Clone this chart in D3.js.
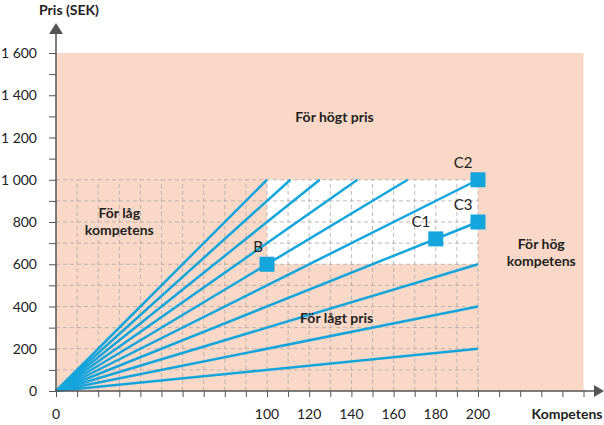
<!DOCTYPE html><html><head><meta charset="utf-8"><script src="https://cdn.jsdelivr.net/npm/d3@7"></script>
<style>body{margin:0;background:#fff}text{font-family:Lato,"Open Sans",sans-serif;fill:#222}</style></head><body><svg width="604" height="425"></svg><script>
const xTickLabels=[0,100,120,140,160,180,200];
const yTickLabels=[0,200,400,600,800,1000,1200,1400,1600];
const slopes=[10,9,8,7,6,5,4,3,2,1];
const points=[{name:"B",x:100,y:600},{name:"C1",x:180,y:720},{name:"C2",x:200,y:1000},{name:"C3",x:200,y:800}];
const regionLabels=[{t:["För högt pris"],x:132,y:1275},{t:["För låg","kompetens"],x:30,y:820},{t:["För hög","kompetens"],x:230,y:670},{t:["För lågt pris"],x:133,y:320}];
const svg=d3.select("svg");
const x=d3.scaleLinear().domain([0,200]).range([56,478]);
const y=d3.scaleLinear().domain([0,1600]).range([391,53]);
const pink="#f9d8c7",blue="#14a5dc",axc="#555";
svg.append("rect").attr("x",x(0)).attr("y",y(1600)).attr("width",x(250)-x(0)).attr("height",y(0)-y(1600)).attr("fill",pink);
svg.append("rect").attr("x",x(100)).attr("y",y(1000)).attr("width",x(200)-x(100)).attr("height",y(600)-y(1000)).attr("fill","#fff");
const g=svg.append("g");
g.selectAll(".vg").data(d3.range(10,201,10)).join("line").attr("x1",d=>x(d)).attr("x2",d=>x(d)).attr("y1",y(0)).attr("y2",y(1000)).attr("stroke","#b0aaa6").attr("stroke-width",0.8).attr("stroke-dasharray","4,3");
g.selectAll(".hg").data(d3.range(100,1001,100)).join("line").attr("x1",x(0)).attr("x2",x(200)).attr("y1",d=>y(d)).attr("y2",d=>y(d)).attr("stroke","#b0aaa6").attr("stroke-width",0.8).attr("stroke-dasharray","4,3");
svg.selectAll(".ray").data(slopes).join("line").attr("x1",x(0)).attr("y1",y(0)).attr("x2",s=>x(Math.min(200,1000/s))).attr("y2",s=>y(Math.min(200,1000/s)*s)).attr("stroke",blue).attr("stroke-width",2.5);
svg.selectAll(".pt").data(points).join("rect").attr("x",d=>x(d.x)-7.5).attr("y",d=>y(d.y)-7.5).attr("width",15).attr("height",15).attr("fill",blue);
svg.selectAll(".pl").data(points).join("text").attr("x",d=>x(d.x)-(d.name=="B"?9:15)).attr("y",d=>y(d.y)-12).attr("text-anchor","middle").attr("font-size",15).text(d=>d.name);
regionLabels.forEach(r=>{const t=svg.append("text").attr("x",x(r.x)).attr("y",y(r.y)).attr("text-anchor","middle").attr("font-size",14).attr("font-weight","bold");r.t.forEach((s,i)=>t.append("tspan").attr("x",x(r.x)).attr("dy",i?17:0).text(s));});
const xa=d3.axisBottom(x).tickValues(d3.range(0,251,10)).tickSize(6).tickFormat("");
const xg=svg.append("g").attr("transform",`translate(0,${y(0)})`).call(xa);
xg.select(".domain").remove();xg.selectAll("line").attr("stroke",axc);
svg.append("line").attr("x1",x(0)).attr("x2",596).attr("y1",y(0)).attr("y2",y(0)).attr("stroke",axc).attr("stroke-width",1.5);
svg.append("path").attr("d",`M604,${y(0)} l-10,-6 v12z`).attr("fill",axc);
svg.selectAll(".xl").data(xTickLabels).join("text").attr("x",d=>x(d)).attr("y",419).attr("text-anchor","middle").attr("font-size",14).text(d=>d);
const ya=d3.axisLeft(y).tickValues(d3.range(0,1601,100)).tickSize(7).tickFormat("");
const yg=svg.append("g").attr("transform",`translate(${x(0)},0)`).call(ya);
yg.select(".domain").remove();yg.selectAll("line").attr("stroke",axc);
svg.append("line").attr("x1",x(0)).attr("x2",x(0)).attr("y1",y(0)).attr("y2",32).attr("stroke",axc).attr("stroke-width",1.5);
svg.append("path").attr("d",`M${x(0)},23 l-7,11 h14z`).attr("fill",axc);
svg.selectAll(".yl").data(yTickLabels).join("text").attr("x",37).attr("y",d=>y(d)+5).attr("text-anchor","end").attr("font-size",14).text(d=>d>=1000?d3.format(",")(d).replace(","," "):d);
svg.append("text").attr("x",69).attr("y",15).attr("text-anchor","middle").attr("font-size",14).attr("font-weight","bold").text("Pris (SEK)");
svg.append("text").attr("x",567).attr("y",419).attr("text-anchor","middle").attr("font-size",14).attr("font-weight","bold").text("Kompetens");
</script></body></html>
